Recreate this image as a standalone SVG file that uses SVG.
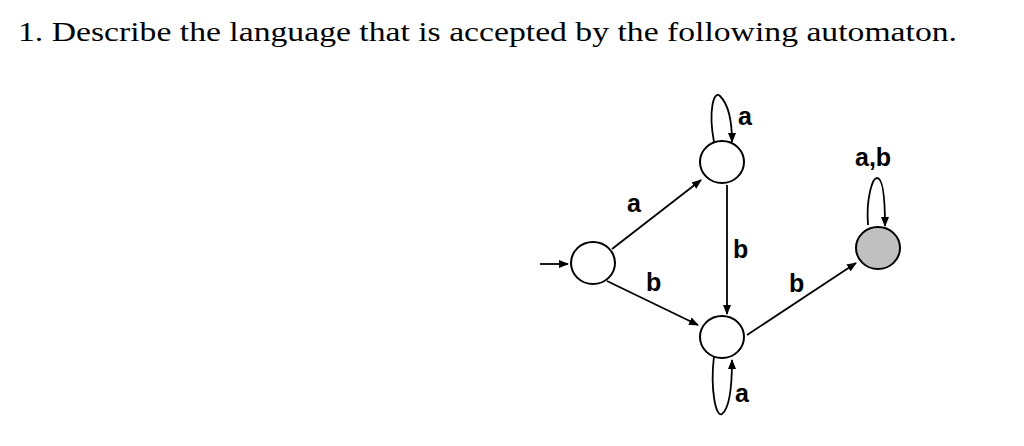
<svg xmlns="http://www.w3.org/2000/svg" width="1024" height="446" viewBox="0 0 1024 446">
<style>
.st{fill:#fff;stroke:#000;stroke-width:2}
.fin{fill:#c0c0c0;stroke:#000;stroke-width:2}
.e{fill:none;stroke:#000;stroke-width:1.8;marker-end:url(#ah)}
.lb{font-family:"Liberation Sans",Arial,sans-serif;font-weight:bold;font-size:25px;fill:#000}
.t{font-family:"Liberation Serif","Times New Roman",serif;font-size:27px;fill:#000}
</style>
<defs><marker id="ah" markerWidth="10" markerHeight="8" refX="9" refY="4" orient="auto" markerUnits="userSpaceOnUse"><path d="M0,0 L10,4 L0,8 z" fill="#000"/></marker></defs>
<rect width="1024" height="446" fill="#fff"/>
<text class="t" x="18" y="41" textLength="939" lengthAdjust="spacingAndGlyphs">1. Describe the language that is accepted by the following automaton.</text>
<g id="connectors">
<path class="e" d="M540,264 L568,264"/>
<path class="e" d="M612,249 L701,180"/>
<path class="e" d="M607,281 L698,325"/>
<path class="e" d="M727,185 L727,314"/>
<path class="e" d="M747,335 L856,263"/>
<path class="e" d="M714,142 C708,110 714,90 720,96 C728,104 732,120 732,142"/>
<path class="e" d="M714,356 C710,390 716,418 722,414 C730,408 732,385 732,360"/>
<path class="e" d="M868,225 C866,200 872,178 877,178 C883,178 885,200 885,226"/>
<text class="lb" x="738" y="125">a</text>
<text class="lb" x="855" y="166">a,b</text>
<text class="lb" x="627" y="212">a</text>
<text class="lb" x="733" y="258">b</text>
<text class="lb" x="646" y="291">b</text>
<text class="lb" x="789" y="292">b</text>
<text class="lb" x="735" y="402">a</text>
</g>
<g id="q0"><ellipse class="st" cx="593" cy="263" rx="22" ry="21"/></g>
<g id="q1"><ellipse class="st" cx="722" cy="162" rx="22" ry="21"/></g>
<g id="q2"><ellipse class="st" cx="722" cy="337" rx="22" ry="21"/></g>
<g id="q3"><ellipse class="fin" cx="878" cy="248" rx="22" ry="21"/></g>
</svg>
